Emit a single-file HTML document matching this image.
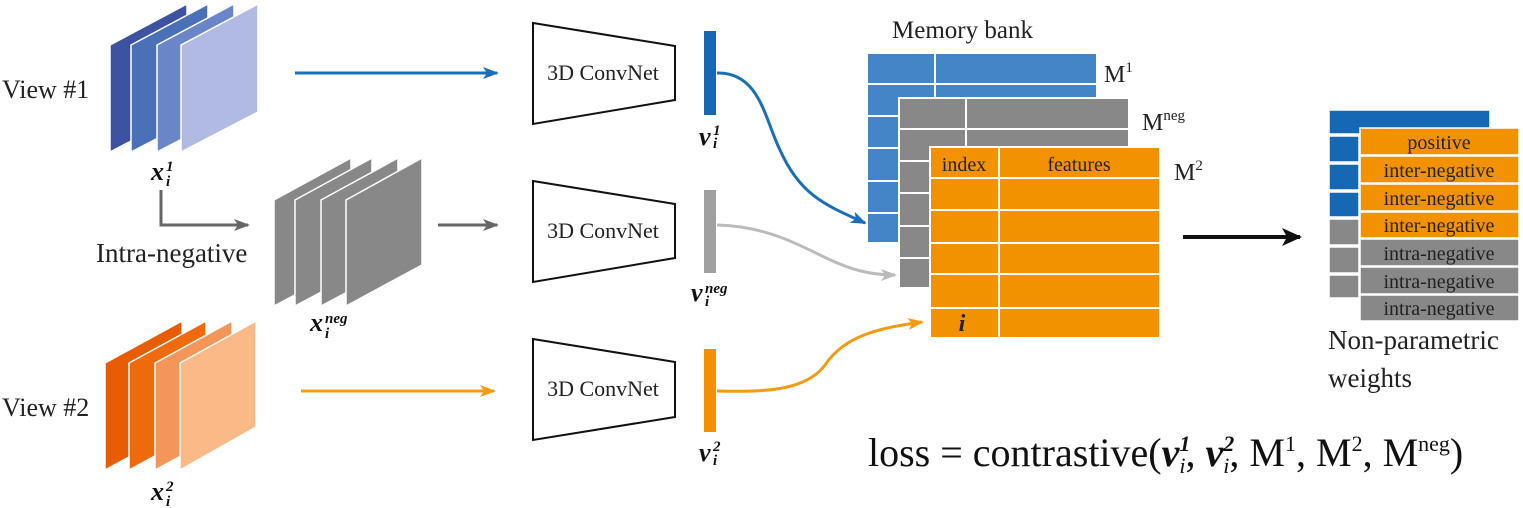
<!DOCTYPE html>
<html><head><meta charset="utf-8"><style>html,body{margin:0;padding:0;background:#fff}svg{display:block}</style></head>
<body>
<svg width="1523" height="508" viewBox="0 0 1523 508" xmlns="http://www.w3.org/2000/svg" font-family="Liberation Serif, serif">
<defs>
<marker id="ab" markerWidth="16" markerHeight="12" refX="14" refY="6" orient="auto" markerUnits="userSpaceOnUse"><path d="M0,0 L16,6 L0,12 L4,6z" fill="#1a6fb8"/></marker>
<marker id="ag" markerWidth="16" markerHeight="12" refX="14" refY="6" orient="auto" markerUnits="userSpaceOnUse"><path d="M0,0 L16,6 L0,12 L4,6z" fill="#666"/></marker>
<marker id="alg" markerWidth="16" markerHeight="12" refX="14" refY="6" orient="auto" markerUnits="userSpaceOnUse"><path d="M0,0 L16,6 L0,12 L4,6z" fill="#bbb"/></marker>
<marker id="ao" markerWidth="16" markerHeight="12" refX="14" refY="6" orient="auto" markerUnits="userSpaceOnUse"><path d="M0,0 L16,6 L0,12 L4,6z" fill="#f39c12"/></marker>
<marker id="ak" markerWidth="20" markerHeight="18" refX="18" refY="9" orient="auto" markerUnits="userSpaceOnUse"><path d="M0,0 L20,9 L0,18 L5,9z" fill="#111"/></marker>
</defs>

<g stroke="#fff" stroke-width="1.5">
<polygon points="110,45 187,4 187,112 110,152" fill="#3d52a0"/>
<polygon points="131,45 208,4 208,112 131,152" fill="#4a70b8"/>
<polygon points="157,45 234,4 234,112 157,152" fill="#6a86c8"/>
<polygon points="181,45 258,4 258,112 181,152" fill="#b0bae2"/>
<polygon points="274,200 351,158 351,265 274,306" fill="#888"/>
<polygon points="295,200 372,158 372,265 295,306" fill="#888"/>
<polygon points="321,200 398,158 398,265 321,306" fill="#888"/>
<polygon points="346,200 422,158 422,265 346,306" fill="#888"/>
<polygon points="105,363 182,321 182,428 105,470" fill="#e85d04"/>
<polygon points="129,363 206,321 206,428 129,470" fill="#ee6a0c"/>
<polygon points="155,363 232,321 232,428 155,470" fill="#f4965a"/>
<polygon points="180,363 256,321 256,427 180,470" fill="#fbb987"/>
</g>

<g font-size="26" fill="#222">
<text x="2" y="98">View #1</text>
<text x="2" y="416">View #2</text>
<text x="96" y="262" font-size="27">Intra-negative</text>
</g>
<g font-size="26" font-weight="bold" font-style="italic" fill="#111">
<text x="151" y="180">x</text><text x="166" y="171" font-size="15">1</text><text x="166" y="186" font-size="15">i</text>
<text x="310" y="331">x</text><text x="325" y="323" font-size="15">neg</text><text x="325" y="338" font-size="15">i</text>
<text x="151" y="500">x</text><text x="166" y="491" font-size="15">2</text><text x="166" y="506" font-size="15">i</text>
</g>

<polyline points="161,190 161,225 248,225" fill="none" stroke="#666" stroke-width="3" marker-end="url(#ag)"/>
<line x1="295" y1="73" x2="497" y2="73" stroke="#1a6fb8" stroke-width="3" marker-end="url(#ab)"/>
<line x1="438" y1="225" x2="497" y2="225" stroke="#666" stroke-width="3" marker-end="url(#ag)"/>
<line x1="301" y1="391" x2="494" y2="391" stroke="#f39c12" stroke-width="3" marker-end="url(#ao)"/>

<g fill="#fff" stroke="#111" stroke-width="2">
<polygon points="533,23 675,46 675,100 533,124"/>
<polygon points="533,181 675,204 675,258 533,282"/>
<polygon points="533,339 675,362 675,417 533,440"/>
</g>
<g font-size="22" fill="#222" text-anchor="middle">
<text x="603" y="80">3D ConvNet</text>
<text x="603" y="238">3D ConvNet</text>
<text x="603" y="396">3D ConvNet</text>
</g>

<rect x="704" y="31" width="12" height="84" fill="#1668b4"/>
<rect x="704" y="190" width="12" height="83" fill="#a0a0a0"/>
<rect x="704" y="349" width="12" height="83" fill="#f39000"/>
<g font-size="26" font-weight="bold" font-style="italic" fill="#111">
<text x="699" y="145">v</text><text x="713" y="135" font-size="15">1</text><text x="713" y="148" font-size="15">i</text>
<text x="691" y="301">v</text><text x="705" y="293" font-size="15">neg</text><text x="705" y="306" font-size="15">i</text>
<text x="699" y="461">v</text><text x="713" y="451" font-size="15">2</text><text x="713" y="465" font-size="15">i</text>
</g>

<path d="M717,73 C760,72 765,120 780,150 C800,195 825,205 865,223" fill="none" stroke="#1a6fb8" stroke-width="3" marker-end="url(#ab)"/>
<path d="M717,225 C760,226 790,240 820,255 C850,270 870,275 895,275" fill="none" stroke="#bbb" stroke-width="3" marker-end="url(#alg)"/>
<path d="M717,391 C760,392 805,392 825,365 C845,335 880,328 922,322" fill="none" stroke="#f39c12" stroke-width="3" marker-end="url(#ao)"/>

<text x="892" y="38" font-size="25" fill="#222">Memory bank</text>
<g stroke="#fff" stroke-width="2">
<rect x="867" y="53" width="230" height="190" fill="#4485c8"/>
<line x1="867" y1="84" x2="1097" y2="84"/><line x1="867" y1="116" x2="1097" y2="116"/><line x1="867" y1="148" x2="1097" y2="148"/><line x1="867" y1="181" x2="1097" y2="181"/><line x1="867" y1="213" x2="1097" y2="213"/>
<line x1="935" y1="53" x2="935" y2="243"/>
<rect x="899" y="98" width="230" height="190" fill="#888"/>
<line x1="899" y1="129" x2="1129" y2="129"/><line x1="899" y1="161" x2="1129" y2="161"/><line x1="899" y1="193" x2="1129" y2="193"/><line x1="899" y1="226" x2="1129" y2="226"/><line x1="899" y1="258" x2="1129" y2="258"/>
<line x1="966" y1="98" x2="966" y2="288"/>
<rect x="930" y="147" width="230" height="191" fill="#f39200"/>
<line x1="930" y1="178" x2="1160" y2="178"/><line x1="930" y1="210" x2="1160" y2="210"/><line x1="930" y1="243" x2="1160" y2="243"/><line x1="930" y1="274" x2="1160" y2="274"/><line x1="930" y1="308" x2="1160" y2="308"/>
<line x1="999" y1="147" x2="999" y2="338"/>
</g>
<g font-size="20" fill="#222">
<text x="964" y="171" text-anchor="middle">index</text>
<text x="1079" y="171" text-anchor="middle">features</text>
<text x="962" y="331" text-anchor="middle" font-weight="bold" font-style="italic" font-size="24">i</text>
</g>
<g font-size="24" fill="#222">
<text x="1104" y="82">M<tspan font-size="15" dy="-10">1</tspan></text>
<text x="1142" y="130">M<tspan font-size="15" dy="-10">neg</tspan></text>
<text x="1174" y="180">M<tspan font-size="15" dy="-10">2</tspan></text>
</g>

<line x1="1183" y1="237" x2="1300" y2="237" stroke="#111" stroke-width="4" marker-end="url(#ak)"/>

<g stroke="#fff" stroke-width="1.5">
<rect x="1329" y="110" width="161" height="24" fill="#1668b4"/>
<rect x="1329" y="136" width="30" height="26" fill="#1668b4"/>
<rect x="1329" y="164" width="30" height="26" fill="#1668b4"/>
<rect x="1329" y="192" width="30" height="25" fill="#1668b4"/>
<rect x="1329" y="219" width="30" height="26" fill="#888"/>
<rect x="1329" y="247" width="30" height="26" fill="#888"/>
<rect x="1329" y="275" width="30" height="23" fill="#888"/>
<rect x="1360" y="128" width="159" height="27" fill="#f39200"/>
<rect x="1360" y="156" width="159" height="27" fill="#f39200"/>
<rect x="1360" y="184" width="159" height="27" fill="#f39200"/>
<rect x="1360" y="212" width="159" height="26" fill="#f39200"/>
<rect x="1360" y="239" width="159" height="27" fill="#888"/>
<rect x="1360" y="267" width="159" height="27" fill="#888"/>
<rect x="1360" y="295" width="159" height="26" fill="#888"/>
</g>
<g font-size="20" fill="#222" text-anchor="middle">
<text x="1439" y="149">positive</text>
<text x="1439" y="177">inter-negative</text>
<text x="1439" y="205">inter-negative</text>
<text x="1439" y="232">inter-negative</text>
<text x="1439" y="260">intra-negative</text>
<text x="1439" y="288">intra-negative</text>
<text x="1439" y="315">intra-negative</text>
</g>
<g font-size="27" fill="#222">
<text x="1328" y="349">Non-parametric</text>
<text x="1328" y="387">weights</text>
</g>

<text x="868" y="466" font-size="40" fill="#111">loss = contrastive(<tspan font-weight="bold" font-style="italic">v</tspan><tspan font-size="22" font-weight="bold" font-style="italic" dy="-15">1</tspan><tspan font-size="22" font-style="italic" dx="-11" dy="22">i</tspan><tspan dy="-7">, </tspan><tspan font-weight="bold" font-style="italic">v</tspan><tspan font-size="22" font-weight="bold" font-style="italic" dy="-15">2</tspan><tspan font-size="22" font-style="italic" dx="-11" dy="22">i</tspan><tspan dy="-7">, M</tspan><tspan font-size="22" dy="-15">1</tspan><tspan dy="15">, M</tspan><tspan font-size="22" dy="-15">2</tspan><tspan dy="15">, M</tspan><tspan font-size="22" dy="-15">neg</tspan><tspan dy="15">)</tspan></text>
</svg>
</body></html>
